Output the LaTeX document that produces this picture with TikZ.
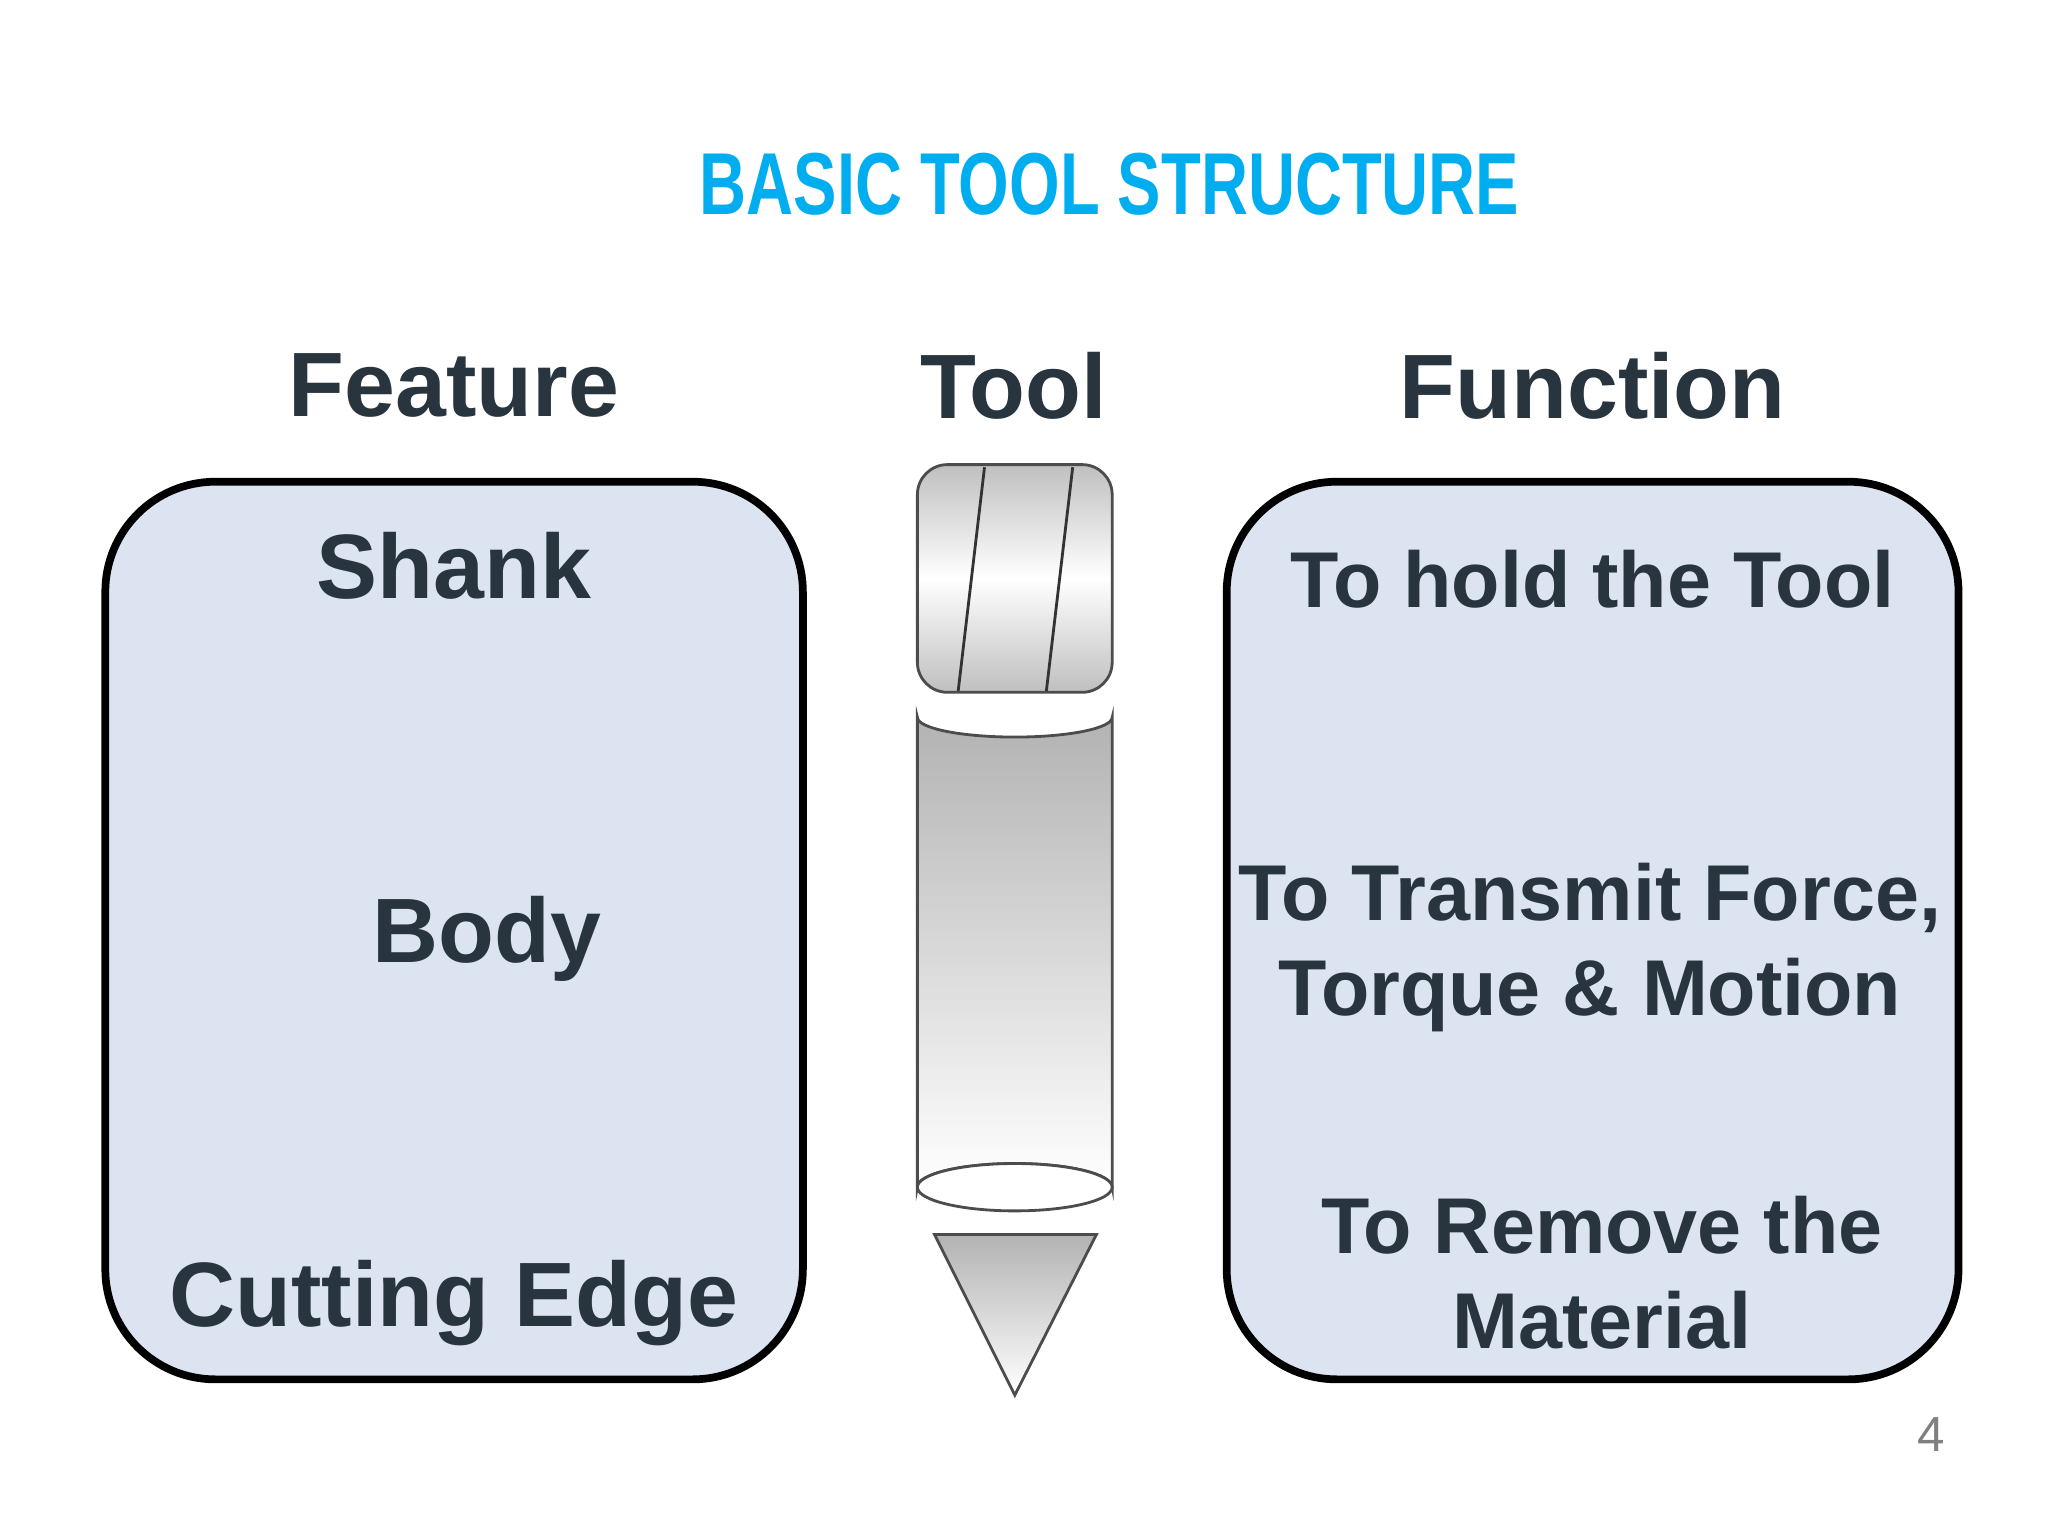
\documentclass[tikz,border=0pt]{standalone}
\usepackage{fontspec}
\setmainfont{Liberation Sans}
\usetikzlibrary{positioning}
\definecolor{titleblue}{RGB}{0,174,239}
\definecolor{boxfill}{RGB}{220,228,242}
\definecolor{inktext}{RGB}{40,52,62}
\tikzset{
  panel/.style={draw=black,line width=2.2pt,fill=boxfill,rounded corners=1.1cm},
  header/.style={font=\bfseries\fontsize{26}{30}\selectfont,text=inktext},
  feature/.style={font=\bfseries\fontsize{26}{30}\selectfont,text=inktext},
  function/.style={font=\bfseries\fontsize{22.5}{27}\selectfont,text=inktext,align=center},
  metal/.style={draw=black!70,thick,top color=black!30,bottom color=white},
}
\begin{document}
\begin{tikzpicture}[x=0.01316cm,y=-0.01316cm]
  \useasboundingbox (0,0) rectangle (1556,1167);
  \node[font=\bfseries\fontsize{25}{30}\selectfont,text=titleblue,xscale=0.74](title) at (843,140) {BASIC TOOL STRUCTURE};
  \node[header](feature_head) at (345,293) {Feature};
  \node[header](tool_head) at (770,293) {Tool};
  \node[header](function_head) at (1210,293) {Function};
  % feature and function panels
  \draw[panel] (80,366) rectangle (610,1048);
  \draw[panel] (932,366) rectangle (1488,1048);
  \node[feature](shank) at (345,430) {Shank};
  \node[feature](body) at (370,713) {Body};
  \node[feature](edge) at (345,990) {Cutting Edge};
  \node[function](hold) at (1210,440) {To hold the Tool};
  \node[function](transmit) at (1208,720) {To Transmit Force,\\Torque \& Motion};
  \node[function](remove) at (1217,967) {To Remove the\\Material};
  % the tool
  \draw[metal,rounded corners=0.3cm,top color=black!25,bottom color=black!25,middle color=white] (697,353) rectangle (845,526);
  \draw[black!80,thick] (748,355) -- (728,525) (815,355) -- (795,525);
  \draw[metal] (697,545) arc[start angle=180,end angle=0,x radius=74,y radius=15] -- (845,902)
    arc[start angle=0,end angle=-180,x radius=74,y radius=18] -- cycle;
  \draw[draw=black!70,thick,fill=white] (771,902) ellipse[x radius=74,y radius=18];
  \draw[metal] (710,938) -- (833,938) -- (771,1060) -- cycle;
  \node[text=black!50,font=\fontsize{14}{16}\selectfont](page) at (1467,1090) {4};
\end{tikzpicture}
\end{document}
